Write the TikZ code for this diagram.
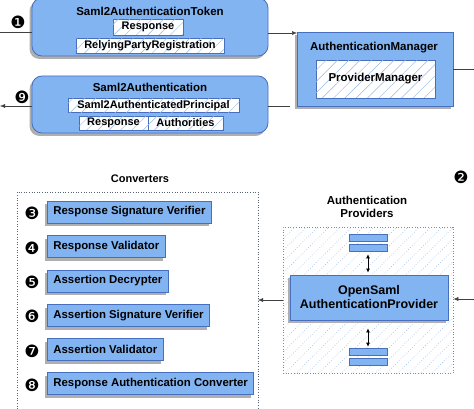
\documentclass[tikz,border=0pt]{standalone}
\usepackage{fontspec}
\setmainfont{Liberation Sans}
\newfontfamily\badgefont{DejaVu Sans}
\usetikzlibrary{patterns.meta,shadows,arrows.meta}
\definecolor{boxfill}{RGB}{130,180,242}
\definecolor{boxline}{RGB}{72,110,190}
\definecolor{hatch}{RGB}{150,185,230}
\definecolor{shadowgray}{RGB}{175,175,175}
\definecolor{dotline}{RGB}{90,100,120}
\tikzset{
  shad/.style={drop shadow={shadow xshift=-2.5pt,shadow yshift=-3pt,fill=shadowgray,opacity=1}},
  bigbox/.style={draw=boxline,fill=boxfill,rounded corners=10pt,line width=0.8pt,shad,inner sep=0pt},
  sqbox/.style={draw=boxline,fill=boxfill,line width=0.8pt,shad,inner sep=0pt},
  inner/.style={draw=boxline,line width=0.8pt,fill=white,
     postaction={pattern={Lines[angle=45,distance=8pt,line width=0.45pt]},pattern color=hatch},
     inner sep=0pt,font=\bfseries\fontsize{11}{12}\selectfont},
  title/.style={font=\bfseries\fontsize{11.5}{13}\selectfont,inner sep=0pt},
  conv/.style={draw=boxline,fill=boxfill,line width=0.8pt,shad,anchor=west,
     minimum height=22pt,inner xsep=6pt,font=\bfseries\fontsize{11.4}{12}\selectfont},
  badge/.style={font=\badgefont\fontsize{17}{17}\selectfont,inner sep=0pt},
  bar/.style={draw=boxline,fill=boxfill,line width=0.6pt,minimum width=38pt,minimum height=7pt,inner sep=0pt},
  conn/.style={line width=0.5pt,draw=black!75},
  tip/.style={-{Latex[length=5pt,width=4pt]}},
  dtip/.style={{Latex[length=4pt,width=4pt]}-{Latex[length=4pt,width=4pt]},line width=0.8pt},
}
\begin{document}
\begin{tikzpicture}[x=1pt,y=-1pt]
\useasboundingbox (0,0) rectangle (474,409);
% top token box
\node[bigbox,minimum width=236pt,minimum height=58pt] (tok) at (150,27) {};
\node[title] (toktitle) at (150,11) {Saml2AuthenticationToken};
\node[inner,minimum width=70pt,minimum height=16pt] (tokresp) at (148,27) {Response};
\node[inner,minimum width=148pt,minimum height=15pt] (tokrpr) at (150,45.5) {RelyingPartyRegistration};
% authentication box
\node[bigbox,minimum width=236pt,minimum height=57pt] (auth) at (150,104.5) {};
\node[title] (authtitle) at (150,87) {Saml2Authentication};
\node[inner,minimum width=171pt,minimum height=14pt] (authprin) at (153.5,105.5) {Saml2AuthenticatedPrincipal};
\node[inner,minimum width=69pt,minimum height=14pt] (authresp) at (113.5,123) {Response};
\node[inner,minimum width=75pt,minimum height=14pt] (authauth) at (185.5,123) {Authorities};
% manager
\node[sqbox,minimum width=156pt,minimum height=74pt] (mgr) at (375,69) {};
\node[title] (mgrtitle) at (374,48) {AuthenticationManager};
\node[inner,minimum width=119pt,minimum height=38pt,font=\bfseries\fontsize{11.5}{12}\selectfont] (pm) at (375.5,79) {ProviderManager};
% connectors top
\coordinate (in1) at (0,32);
\coordinate (mgrin) at (297,33);
\coordinate (authout) at (290,106);
\coordinate (mgrout) at (474,69);
\coordinate (out9) at (0,106);
\draw[conn] (in1) -- (tok.west |- in1);
\draw[conn,tip] (tok.east |- mgrin) -- (mgrin);
\draw[conn] (auth.east |- authout) -- (authout);
\draw[conn] (mgr.east |- mgrout) -- (mgrout);
\draw[conn,tip] (auth.west |- out9) -- (out9);
\node[badge] (b1) at (18,22) {❶};
\node[badge] (b9) at (22,97) {❾};
% converters
\node[title,font=\bfseries\fontsize{11}{12}\selectfont] (convtitle) at (140,179) {Converters};
\draw[dotted,dotline,line width=0.6pt] (17,414) -- (17,192) -- (258,192) -- (258,414);
\coordinate (convE) at (258,300);
\node[conv] (c3) at (47,212) {Response Signature Verifier};
\node[conv] (c4) at (47,246.5) {Response Validator};
\node[conv] (c5) at (47,281) {Assertion Decrypter};
\node[conv] (c6) at (47,315.5) {Assertion Signature Verifier};
\node[conv] (c7) at (47,349.5) {Assertion Validator};
\node[conv] (c8) at (47,383.5) {Response Authentication Converter};
\node[badge] (b3) at (32,213) {❸};
\node[badge] (b4) at (32,248) {❹};
\node[badge] (b5) at (32,282) {❺};
\node[badge] (b6) at (32,316) {❻};
\node[badge] (b7) at (32,351) {❼};
\node[badge] (b8) at (32,385) {❽};
% providers
\node[badge] (b2) at (461,177) {❷};
\node[title,align=center,font=\bfseries\fontsize{11.5}{12.5}\selectfont] (provtitle) at (367,207) {Authentication\\Providers};
\node[draw=boxline!80,dotted,line width=0.7pt,fill=white,
      postaction={pattern={Lines[angle=45,distance=8pt,line width=0.5pt]},pattern color=hatch},
      minimum width=170pt,minimum height=146pt,inner sep=0pt] (prov) at (368,300) {};
\node[bar] (bt1) at (368,237.5) {};
\node[bar] (bt2) at (368,247.5) {};
\node[sqbox,minimum width=158pt,minimum height=45pt,align=center,
      font=\bfseries\fontsize{12.5}{14}\selectfont] (osp) at (369,297.5) {OpenSaml\\AuthenticationProvider};
\node[bar] (bb1) at (368,351.5) {};
\node[bar] (bb2) at (368,361.5) {};
\draw[dtip,shorten <=3pt,shorten >=2pt] (bt2.south) -- (bt2.south |- osp.north);
\draw[dtip,shorten <=8pt,shorten >=1pt] (bb1.north |- osp.south) -- (bb1.north);
\coordinate (provin) at (474,299);
\draw[conn,tip] (provin) -- (prov.east |- provin);
\draw[conn,tip] (prov.west |- convE) -- (convE);
\end{tikzpicture}
\end{document}
